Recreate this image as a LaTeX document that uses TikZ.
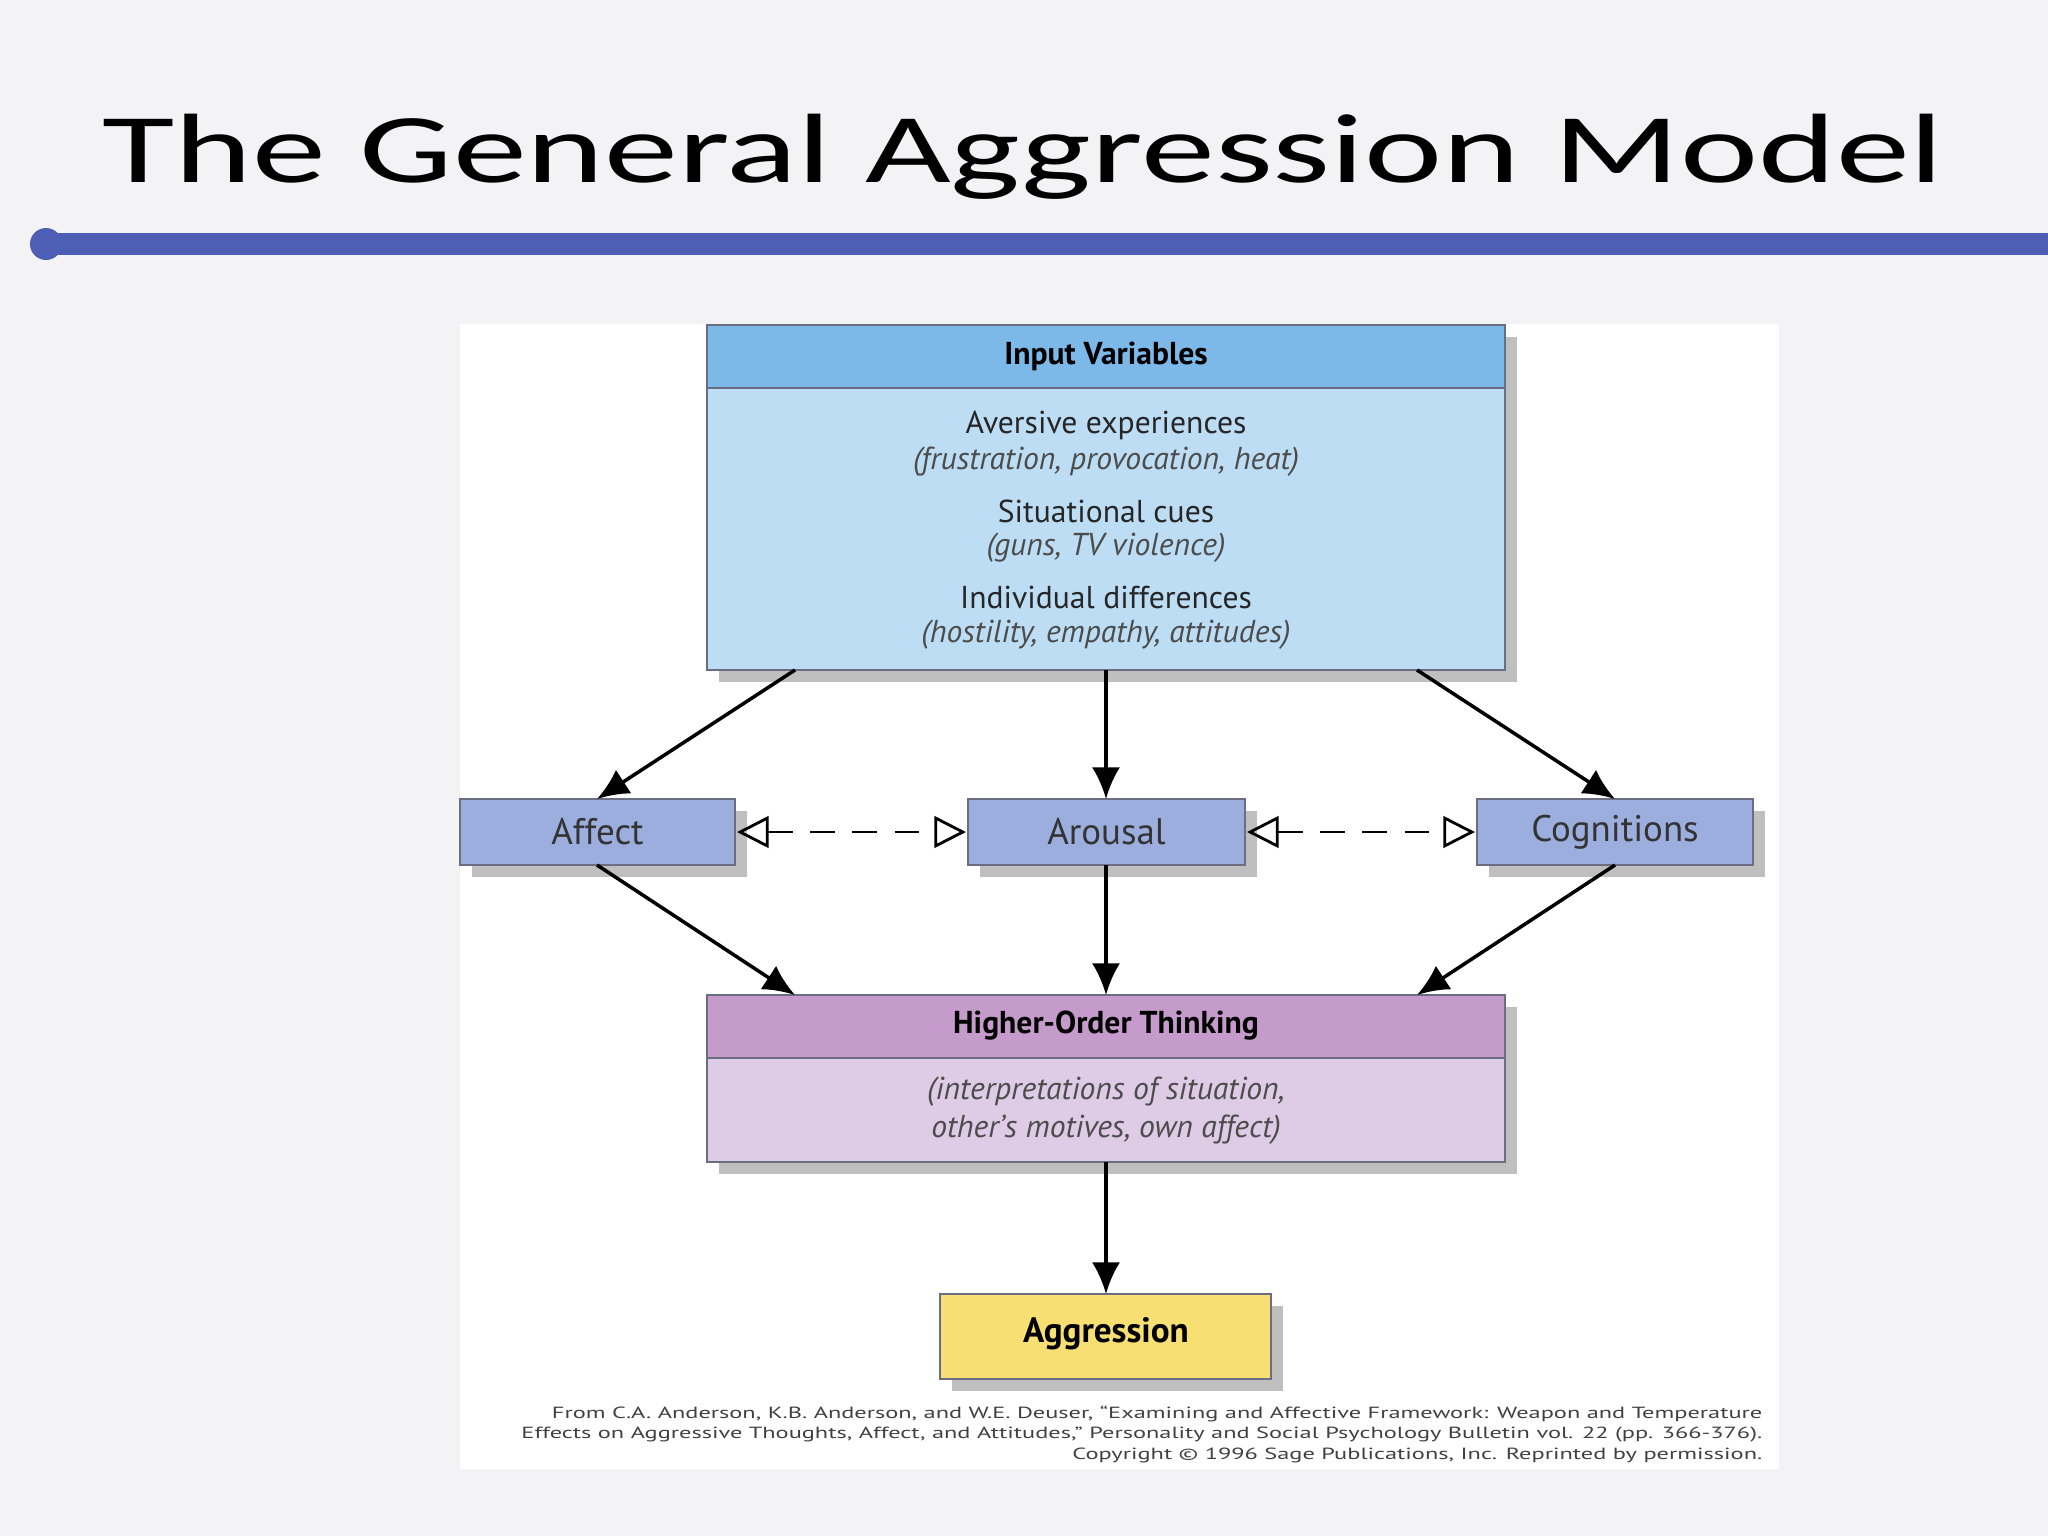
\documentclass[tikz,border=0pt]{standalone}
\usepackage{fontspec}
\setmainfont{PT Sans}
\newfontfamily\titlefont{Carlito}
\usetikzlibrary{arrows.meta}
\definecolor{bg}{HTML}{F3F3F6}
\definecolor{rule}{HTML}{4C5FB4}
\definecolor{inhead}{HTML}{7DB9E8}
\definecolor{inbody}{HTML}{BCDDF4}
\definecolor{mid}{HTML}{9CAEDD}
\definecolor{hohead}{HTML}{C59BCB}
\definecolor{hobody}{HTML}{DECBE5}
\definecolor{agg}{HTML}{F8DF74}
\definecolor{edge}{HTML}{6A6E80}
\tikzset{
  x=0.01cm,y=-0.01cm,
  shad/.style={fill=black!25},
  box/.style={draw=edge,line width=0.8pt},
  arr/.style={-{Latex[length=9pt,width=8pt]},line width=1pt},
  darr/.style={{Triangle[open,length=9pt,width=9pt]}-{Triangle[open,length=9pt,width=9pt]},dashed,dash pattern=on 7pt off 5pt,line width=0.8pt},
  lbl/.style={font=\fontsize{9}{11}\selectfont,text=black!85},
  hd/.style={font=\bfseries\fontsize{9}{11}\selectfont},
  sub/.style={font=\itshape\fontsize{9}{11}\selectfont,text=black!70},
}
\begin{document}
\begin{tikzpicture}
\useasboundingbox (0,0) rectangle (2048,1536);
\fill[bg] (0,0) rectangle (2048,1536);
\fill[white] (460,324) rectangle (1779,1469);
% title
\node[anchor=west,inner sep=0pt,font=\titlefont\fontsize{28}{34}\selectfont] (title) at (102,157) {\resizebox{18.4cm}{\height}{The General Aggression Model}};
\fill[rule] (46,244) circle (16);
\draw[rule,line width=6pt] (46,244) -- (2048,244);
% Input box
\fill[shad] (719,337) rectangle (1517,682);
\fill[inbody] (707,325) rectangle (1505,670);
\fill[inhead] (707,325) rectangle (1505,388);
\draw[box] (707,325) rectangle (1505,670);
\draw[edge,line width=0.8pt] (707,388) -- (1505,388);
\node[hd] (inh) at (1106,356) {Input Variables};
\node[lbl] (t1) at (1106,425) {Aversive experiences};
\node[sub] (t2) at (1106,462) {(frustration, provocation, heat)};
\node[lbl] (t3) at (1106,511) {Situational cues};
\node[sub] (t4) at (1106,548) {(guns, TV violence)};
\node[lbl] (t5) at (1106,597) {Individual differences};
\node[sub] (t6) at (1106,635) {(hostility, empathy, attitudes)};
\coordinate (inL) at (795,670);
\coordinate (inM) at (1106,670);
\coordinate (inR) at (1417,670);
% middle boxes
\foreach \n/\a/\b/\t in {aff/460/735/Affect, aro/968/1245/Arousal, cog/1477/1753/Cognitions}{
  \fill[shad] (\a+12,811) rectangle (\b+12,877);
  \fill[mid] (\a,799) rectangle (\b,865);
  \draw[box] (\a,799) rectangle (\b,865);
  \node[font=\fontsize{10.5}{12}\selectfont,text=black!80] (\n) at ({(\a+\b)/2},832) {\t};
}
% HOT box
\fill[shad] (719,1007) rectangle (1517,1174);
\fill[hobody] (707,995) rectangle (1505,1162);
\fill[hohead] (707,995) rectangle (1505,1058);
\draw[box] (707,995) rectangle (1505,1162);
\draw[edge,line width=0.8pt] (707,1058) -- (1505,1058);
\node[hd] (hoh) at (1106,1026) {Higher-Order Thinking};
\node[sub] (h1) at (1106,1092) {(interpretations of situation,};
\node[sub] (h2) at (1106,1130) {other's motives, own affect)};
% Aggression
\fill[shad] (952,1306) rectangle (1283,1391);
\fill[agg] (940,1294) rectangle (1271,1379);
\draw[box] (940,1294) rectangle (1271,1379);
\node[hd,font=\bfseries\fontsize{10}{12}\selectfont] (ag) at (1106,1334) {Aggression};
% arrows
\coordinate (affT) at (597,799);
\coordinate (aroT) at (1106,799);
\coordinate (cogT) at (1615,799);
\coordinate (affB) at (597,865);
\coordinate (aroB) at (1106,865);
\coordinate (cogB) at (1615,865);
\coordinate (hoL) at (795,995);
\coordinate (hoM) at (1106,995);
\coordinate (hoR) at (1417,995);
\coordinate (hoB) at (1106,1162);
\coordinate (agT) at (1106,1294);
\draw[arr] (inL) -- (affT);
\draw[arr] (inM) -- (aroT);
\draw[arr] (inR) -- (cogT);
\draw[arr] (affB) -- (hoL);
\draw[arr] (aroB) -- (hoM);
\draw[arr] (cogB) -- (hoR);
\draw[arr] (hoB) -- (agT);
\coordinate (d1) at (737,832); \coordinate (d2) at (966,832);
\coordinate (d3) at (1247,832); \coordinate (d4) at (1475,832);
\draw[darr] (d1) -- (d2);
\draw[darr] (d3) -- (d4);
% citation
\node[anchor=north east,inner sep=0pt,text=black!75] (cit) at (1763,1403)
{\resizebox{12.4cm}{\height}{\fontsize{4.6}{5.9}\selectfont\begin{tabular}{@{}r@{}}From C.A. Anderson, K.B. Anderson, and W.E. Deuser, ``Examining and Affective Framework: Weapon and Temperature\\
Effects on Aggressive Thoughts, Affect, and Attitudes,'' Personality and Social Psychology Bulletin vol. 22 (pp. 366-376).\\
Copyright \textcopyright\ 1996 Sage Publications, Inc. Reprinted by permission.\end{tabular}}};
\end{tikzpicture}
\end{document}
